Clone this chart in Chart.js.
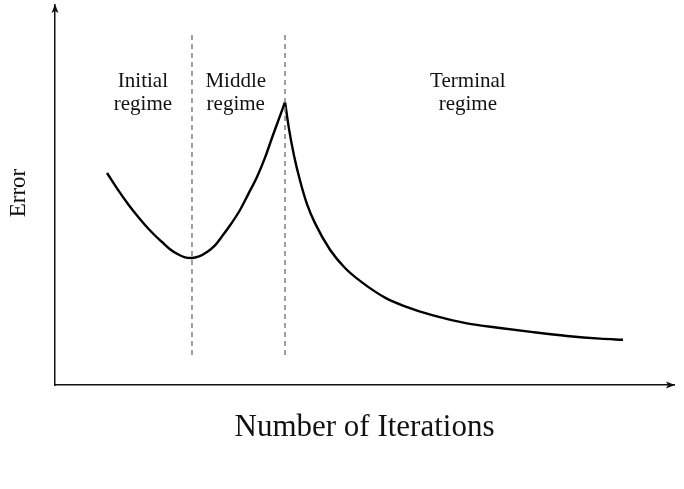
<!DOCTYPE html>
<html>
<head>
<meta charset="utf-8">
<script src="https://cdn.jsdelivr.net/npm/chart.js@4/dist/chart.umd.min.js"></script>
<style>
  html, body { margin: 0; padding: 0; background: #fff; }
  #wrap { width: 684px; height: 489px; }
</style>
</head>
<body>
<div id="wrap"><canvas id="myChart"></canvas></div>
<script>
// curve before the peak (initial + middle regime)
var leftX = [8.40, 10.18, 11.79, 13.25, 14.54, 15.99, 17.29, 18.58, 19.87, 21.0, 22.13,
             23.26, 24.56, 25.85, 27.14, 28.43, 29.89, 31.18, 32.63, 33.93, 35.22, 36.19, 37.16];
var leftY = [55.79, 51.34, 47.63, 44.58, 42.11, 39.61, 37.63, 35.74, 34.39, 33.58, 33.42,
             33.82, 35.0, 36.76, 39.47, 42.37, 46.05, 50.1, 54.74, 59.84, 65.79, 70.08, 74.47];
// curve after the peak (terminal regime)
var rightX = [37.16, 37.80, 38.61, 39.58, 40.71, 42.00, 44.43, 46.85, 49.60, 53.31,
              56.54, 61.07, 66.56, 71.89, 77.22, 82.71, 88.05, 91.76];
var rightY = [74.47, 67.4, 60.4, 53.8, 47.6, 42.6, 35.6, 30.8, 27.0, 23.0,
              20.7, 18.3, 16.2, 15.0, 13.9, 12.9, 12.2, 11.9];

// regime boundaries
var boundaryX = [22.13, 37.16];
var boundaryY = [7.9, 92.1];

// regime labels
var regimeNames = [["Initial", "regime"], ["Middle", "regime"], ["Terminal", "regime"]];
var regimeX = [14.2, 29.2, 66.7];
var regimeY = 78.4;

var xTitle = "Number of Iterations";
var yTitle = "Error";

function pts(xs, ys) {
    var out = [];
    for (var i = 0; i < xs.length; i++) {
        out.push({x: xs[i], y: ys[i]});
    }
    return out;
}

var datasets = [];
for (var i = 0; i < boundaryX.length; i++) {
    datasets.push({
        data: pts([boundaryX[i], boundaryX[i]], boundaryY),
        borderColor: "#888",
        borderWidth: 1.6,
        borderDash: [5, 4],
        pointRadius: 0,
        tension: 0
    });
}
datasets.push({
    data: pts(leftX, leftY),
    borderColor: "#000",
    borderWidth: 2.4,
    pointRadius: 0,
    cubicInterpolationMode: "monotone"
});
datasets.push({
    data: pts(rightX, rightY),
    borderColor: "#000",
    borderWidth: 2.4,
    pointRadius: 0,
    cubicInterpolationMode: "monotone"
});

var serif = "'Liberation Serif', 'DejaVu Serif', serif";

var decor = {
    id: "decor",
    afterDraw: function(chart) {
        var ctx = chart.ctx;
        var a = chart.chartArea;
        var xs = chart.scales.x, ys = chart.scales.y;
        ctx.save();
        ctx.fillStyle = "#111";

        // arrow heads
        ctx.beginPath();
        ctx.moveTo(a.left, a.top - 1);
        ctx.lineTo(a.left - 3.5, a.top + 8);
        ctx.lineTo(a.left, a.top + 6);
        ctx.lineTo(a.left + 3.5, a.top + 8);
        ctx.closePath();
        ctx.fill();
        ctx.beginPath();
        ctx.moveTo(a.right + 1, a.bottom);
        ctx.lineTo(a.right - 8, a.bottom - 3.5);
        ctx.lineTo(a.right - 6, a.bottom);
        ctx.lineTo(a.right - 8, a.bottom + 3.5);
        ctx.closePath();
        ctx.fill();

        // regime labels
        ctx.font = "21px " + serif;
        ctx.textAlign = "center";
        ctx.textBaseline = "alphabetic";
        for (var i = 0; i < regimeNames.length; i++) {
            var px = xs.getPixelForValue(regimeX[i]);
            var py = ys.getPixelForValue(regimeY);
            ctx.fillText(regimeNames[i][0], px, py);
            ctx.fillText(regimeNames[i][1], px, py + 23);
        }

        // axis titles
        ctx.font = "31px " + serif;
        ctx.fillText(xTitle, (a.left + a.right) / 2, a.bottom + 51);
        ctx.translate(25, (a.top + a.bottom) / 2 - 2);
        ctx.rotate(-Math.PI / 2);
        ctx.font = "23px " + serif;
        ctx.fillText(yTitle, 0, 0);
        ctx.restore();
    }
};

new Chart("myChart", {
    type: "line",
    data: {datasets: datasets},
    options: {
        responsive: true,
        maintainAspectRatio: false,
        animation: false,
        layout: {padding: {left: 55, top: 5, right: 10, bottom: 104}},
        plugins: {legend: {display: false}, tooltip: {enabled: false}},
        scales: {
            x: {
                type: "linear", min: 0, max: 100,
                grid: {display: false, drawTicks: false},
                ticks: {display: false},
                border: {display: true, color: "#111", width: 1.5}
            },
            y: {
                type: "linear", min: 0, max: 100,
                grid: {display: false, drawTicks: false},
                ticks: {display: false},
                border: {display: true, color: "#111", width: 1.5}
            }
        }
    },
    plugins: [decor]
});
</script>
</body>
</html>
